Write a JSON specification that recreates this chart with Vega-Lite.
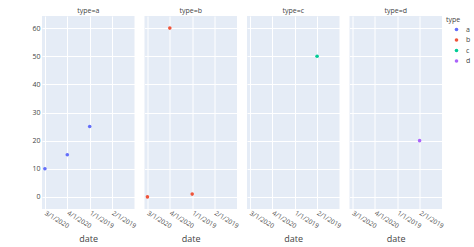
{
  "$schema": "https://vega.github.io/schema/vega-lite/v6.json",
  "padding": {"left": 31, "top": 7, "right": 0, "bottom": 0},
  "background": "white",
  "data": {"values": [
    {"date": "3/1/2020", "value": 10, "type": "a"},
    {"date": "4/1/2020", "value": 15, "type": "a"},
    {"date": "1/1/2019", "value": 25, "type": "a"},
    {"date": "3/1/2020", "value": 0, "type": "b"},
    {"date": "4/1/2020", "value": 60, "type": "b"},
    {"date": "1/1/2019", "value": 1, "type": "b"},
    {"date": "2/1/2019", "value": 50, "type": "c"},
    {"date": "2/1/2019", "value": 20, "type": "d"}
  ]},
  "facet": {
    "column": {
      "field": "type",
      "title": null,
      "header": {"labelExpr": "'type=' + datum.value", "labelFontSize": 7, "labelColor": "#444", "labelPadding": 2, "labelFont": "Open Sans"}
    }
  },
  "spacing": 9.5,
  "spec": {
    "width": 92.5,
    "height": 193,
    "mark": {"type": "circle", "size": 13, "opacity": 1},
    "encoding": {
      "x": {
        "field": "date", "type": "ordinal", "title": "date",
        "scale": {"type": "point", "domain": ["3/1/2020", "4/1/2020", "1/1/2019", "2/1/2019"], "padding": 0.565, "align": 0.115},
        "axis": {"labelAngle": 32, "labelAlign": "left", "labelBaseline": "middle", "labelPadding": 3, "titlePadding": 5}
      },
      "y": {
        "field": "value", "type": "quantitative", "title": null,
        "scale": {"domain": [-4.3, 64.3], "nice": false, "zero": false},
        "axis": {"values": [0, 10, 20, 30, 40, 50, 60], "labelPadding": 2, "labelFontSize": 7}
      },
      "color": {
        "field": "type", "type": "nominal", "title": "type",
        "scale": {"domain": ["a", "b", "c", "d"], "range": ["#636EFA", "#EF553B", "#00CC96", "#AB63FA"]},
        "legend": {"symbolType": "circle", "symbolSize": 13, "offset": 1, "padding": 0, "symbolOffset": 7, "labelOffset": 6, "rowPadding": 2.5, "titlePadding": 3}
      }
    }
  },
  "config": {
    "font": "Open Sans",
    "view": {"fill": "#E5ECF6", "stroke": null},
    "axis": {
      "grid": true, "gridColor": "white", "gridWidth": 1, "domain": false, "ticks": false,
      "labelColor": "#444", "labelFontSize": 6.5, "labelFont": "Open Sans",
      "titleColor": "#444", "titleFontSize": 9, "titleFontWeight": "normal", "titleFont": "Open Sans"
    },
    "legend": {
      "titleFontSize": 7, "titleColor": "#444", "titleFontWeight": "normal", "titleFont": "Open Sans",
      "labelFontSize": 7, "labelColor": "#444", "labelFont": "Open Sans"
    }
  }
}
